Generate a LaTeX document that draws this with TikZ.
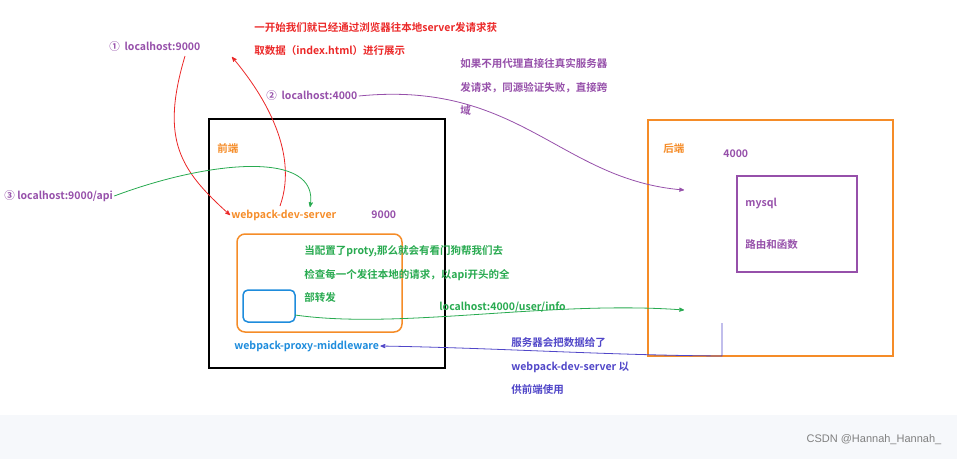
\documentclass[tikz,border=0pt]{standalone}
\usepackage{fontspec}
\setmainfont{Liberation Sans}
\newfontfamily\cjk{Noto Sans CJK SC}[BoldFont={Noto Sans CJK SC Bold}]
\usetikzlibrary{positioning}
\usetikzlibrary{arrows}

\definecolor{redc}{RGB}{235,40,40}
\definecolor{purc}{RGB}{150,80,170}
\definecolor{orc}{RGB}{245,140,40}
\definecolor{grc}{RGB}{40,170,80}
\definecolor{blc}{RGB}{30,140,220}
\definecolor{ibc}{RGB}{80,70,200}
\definecolor{band}{RGB}{246,248,251}

\begin{document}
\begin{tikzpicture}[x=1pt,y=-1pt,>=stealth',thick,
	txt/.style={font=\cjk\bfseries\fontsize{10.5}{12}\selectfont,inner sep=1pt},
	lab/.style={txt,anchor=west,align=left},
	note/.style={lab,font=\cjk\bfseries\fontsize{10.5}{23.5}\selectfont}]
	
	\useasboundingbox (0,0) rectangle (957,459);
	\fill[band] (0,415) rectangle (957,459);
	
	% boxes
	\draw[line width=2pt] (209,119) rectangle (445,368);
	\draw[orc,line width=1.5pt,rounded corners=8pt] (237,234) rectangle (402,332);
	\draw[blc,line width=1.5pt,rounded corners=5pt] (243,290) rectangle (295,322);
	\draw[orc,line width=1.5pt] (648,120) rectangle (893,356);
	\draw[purc,line width=1.5pt] (737,176) rectangle (857,272);
	
	% labels
	\node[lab,purc] (l9000) at (108,47) {①\ \ localhost:9000};
	\node[note,redc] (start) at (253,39) {一开始我们就已经通过浏览器往本地server发请求获\\取数据（index.html）进行展示};
	\node[note,purc] (direct) at (459,87) {如果不用代理直接往真实服务器\\发请求，同源验证失败，直接跨\\域};
	\node[lab,purc] (l4000) at (265,96) {②\ \ localhost:4000};
	\node[lab,purc] (lapi) at (3,196) {③ localhost:9000/api};
	\node[lab,orc] (front) at (216,148) {前端};
	\node[lab,orc] (wds) at (230,215) {webpack-dev-server};
	\node[lab,purc] (p9000) at (370,215) {9000};
	\node[note,grc] (proxy) at (303,274) {当配置了proty,那么就会有看门狗帮我们去\\检查每一个发往本地的请求，以api开头的全\\部转发};
	\node[lab,grc] (luser) at (438,307) {localhost:4000/user/info};
	\node[lab,blc] (wpm) at (233,346) {webpack-proxy-middleware};
	\node[lab,orc] (back) at (662,149) {后端};
	\node[lab,purc] (b4000) at (722,154) {4000};
	\node[lab,purc] (mysql) at (744,203) {mysql};
	\node[lab,purc] (route) at (744,245) {路由和函数};
	\node[note,ibc] (give) at (510,366) {服务器会把数据给了\\webpack-dev-server 以\\供前端使用};
	\node[anchor=east,gray,font=\fontsize{11}{13}\selectfont] (csdn) at (945,440) {CSDN @Hannah\_Hannah\_};
	
	\coordinate (r1) at (185,56);
	\coordinate (r2) at (280,206);
	\coordinate (r3) at (232,57);
	\coordinate (srv) at (684,190);
	\coordinate (srv2) at (684,310);
	\coordinate (bk) at (722,323);
	
	% connectors
	\draw[redc,->] (r1) .. controls (160,140) and (180,170) .. (wds.west);
	\draw[redc,->] (r2) .. controls (300,150) and (260,90) .. (r3);
	\draw[purc,->] (l4000.east) .. controls (520,80) and (560,180) .. (srv);
	\draw[grc,->] (lapi.east) .. controls (210,160) and (320,150) .. (310,207);
	\draw[grc,->] (295,315) .. controls (400,330) and (550,300) .. (srv2);
	\draw[ibc,->] (bk) -- (722,356) .. controls (600,355) and (500,348) .. (wpm.east);
\end{tikzpicture}
\end{document}
